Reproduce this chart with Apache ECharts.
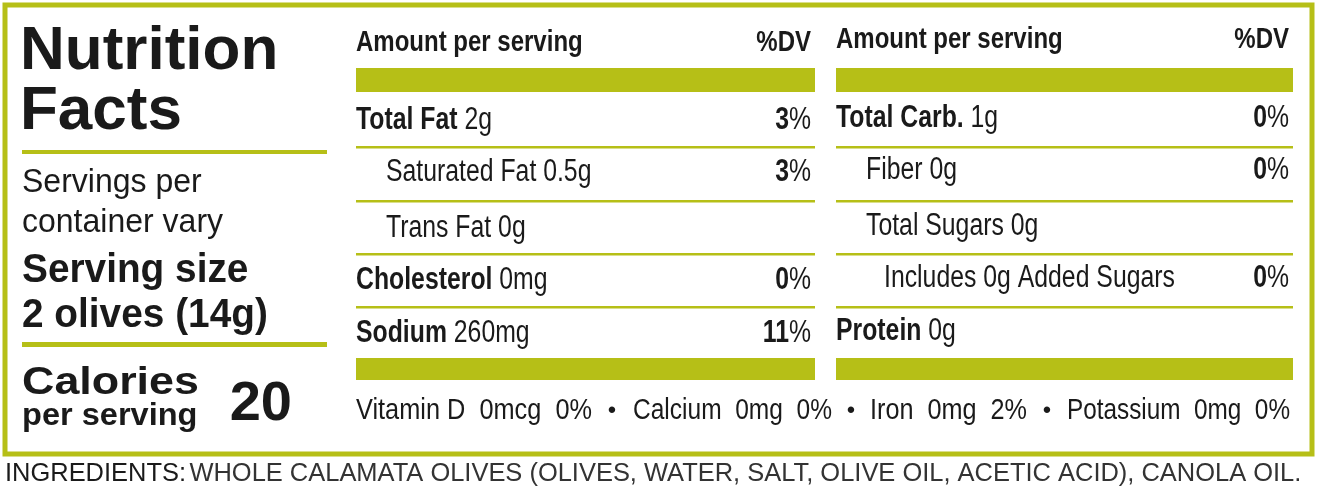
<!DOCTYPE html>
<html>
<head>
<meta charset="utf-8">
<script src="https://cdn.jsdelivr.net/npm/echarts@6/dist/echarts.min.js"></script>
<style>html,body{margin:0;padding:0;background:#fff}#c{width:1318px;height:503px}</style>
</head>
<body>
<div id="c"></div>
<script>
// label data
var servingLines = ['Servings per', 'container vary'];
var servingSize = ['Serving size', '2 olives (14g)'];
var calories = 20;
var leftNames = ['Total Fat', 'Saturated Fat', 'Trans Fat', 'Cholesterol', 'Sodium'];
var leftAmounts = ['2g', '0.5g', '0g', '0mg', '260mg'];
var leftDV = ['3', '3', '', '0', '11'];
var leftLevel = [0, 1, 1, 0, 0];
var rightNames = ['Total Carb.', 'Fiber', 'Total Sugars', 'Includes 0g Added Sugars', 'Protein'];
var rightAmounts = ['1g', '0g', '0g', '', '0g'];
var rightDV = ['0', '0', '', '0', ''];
var rightLevel = [0, 1, 1, 2, 0];
var vitNames = ['Vitamin D', 'Calcium', 'Iron', 'Potassium'];
var vitAmounts = ['0mcg', '0mg', '0mg', '0mg'];
var vitDV = ['0%', '0%', '2%', '0%'];
var ingredients = 'WHOLE CALAMATA OLIVES (OLIVES, WATER, SALT, OLIVE OIL, ACETIC ACID), CANOLA OIL.';

var green = '#b6bf17';
var ink = '#1a1a1a';
var sans = '"Liberation Sans", Arial, sans-serif';
var NARROW = 0.8;

var chart = echarts.init(document.getElementById('c'));
var g = [];

function txt(x, y, text, size, weight, align, sx, rich) {
    g.push({
        type: 'text', x: x, y: y, scaleX: sx || 1,
        style: {
            text: text, fill: ink, fontSize: size, fontWeight: weight || 'normal',
            fontFamily: sans, align: align || 'left', verticalAlign: 'middle',
            rich: rich
        }
    });
}
function rect(x, y, w, h) {
    g.push({ type: 'rect', shape: { x: x, y: y, width: w, height: h }, style: { fill: green } });
}
var ctx = document.createElement('canvas').getContext('2d');
function fitScale(text, size, target) {
    ctx.font = size + 'px ' + sans;
    return target / ctx.measureText(text).width;
}

// frame
g.push({ type: 'rect', shape: { x: 5, y: 5, width: 1307, height: 449 },
    style: { fill: 'none', stroke: green, lineWidth: 5 } });

// left column
txt(20, 52, 'Nutrition', 62, 'bold', 'left', 1);
txt(20, 112, 'Facts', 62, 'bold', 'left', 1);
rect(22, 150, 305, 4);
txt(22, 183, servingLines[0], 33, 'normal', 'left', 0.97);
txt(22, 223, servingLines[1], 33, 'normal', 'left', 0.97);
txt(22, 271, servingSize[0], 40, 'bold', 'left', 0.97);
txt(22, 316, servingSize[1], 40, 'bold', 'left', 0.97);
rect(22, 342, 305, 5);
txt(22, 384, 'Calories', 38, 'bold', 'left', 1.18);
txt(22, 416, 'per serving', 31, 'bold', 'left', 1.05);
txt(292, 405, String(calories), 56, 'bold', 'right', 1);

var rich = {
    b: { fontSize: 31, fontWeight: 'bold', fontFamily: sans, fill: ink },
    r: { fontSize: 31, fontFamily: sans, fill: ink }
};
var rowY = [120, 172, 228, 280, 333];
var lineY = [146, 200, 253, 306];

function column(x0, x1, names, amounts, dv, level, headY) {
    txt(x0, headY, 'Amount per serving', 30, 'bold', 'left', NARROW);
    txt(x1 - 4, headY, '%DV', 30, 'bold', 'right', NARROW);
    rect(x0, 68, x1 - x0, 24);
    lineY.forEach(function (y) { rect(x0, y, x1 - x0, 2.5); });
    rect(x0, 358, x1 - x0, 22);
    var dy = x0 > 800 ? -2 : 0;
    names.forEach(function (n, i) {
        var indent = [0, 30, 48][level[i]];
        var s = level[i] === 0 ? '{b|' + n + '}' + (amounts[i] ? '{r| ' + amounts[i] + '}' : '')
                               : '{r|' + n + (amounts[i] ? ' ' + amounts[i] : '') + '}';
        txt(x0 + indent, rowY[i] + dy, s, 31, 'normal', 'left', NARROW, rich);
        if (dv[i] !== '') txt(x1 - 4, rowY[i] + dy, '{b|' + dv[i] + '}{r|%}', 31, 'normal', 'right', NARROW, rich);
    });
}
column(356, 815, leftNames, leftAmounts, leftDV, leftLevel, 43);
column(836, 1293, rightNames, rightAmounts, rightDV, rightLevel, 40);

// vitamins row
var vitX = [356, 633, 870, 1067];
var vitW = [236, 199, 157, 223];
var dotX = [612, 851, 1047];
vitNames.forEach(function (n, i) {
    var s = n + '  ' + vitAmounts[i] + '  ' + vitDV[i];
    txt(vitX[i], 411, s, 29, 'normal', 'left', fitScale(s, 29, vitW[i]));
});
dotX.forEach(function (x) { txt(x, 411, '•', 24, 'normal', 'center'); });

// ingredients
var ingText = 'INGREDIENTS: ' + ingredients;
g.push({
    type: 'text', x: 5, y: 474, scaleX: fitScale(ingText, 25, 1300),
    style: {
        text: '{a|INGREDIENTS:} {b|' + ingredients + '}', verticalAlign: 'middle',
        rich: {
            a: { fontSize: 25, fontFamily: sans, fill: ink },
            b: { fontSize: 25, fontFamily: sans, fill: '#333' }
        }
    }
});

chart.setOption({ animation: false, graphic: g });
</script>
</body>
</html>
